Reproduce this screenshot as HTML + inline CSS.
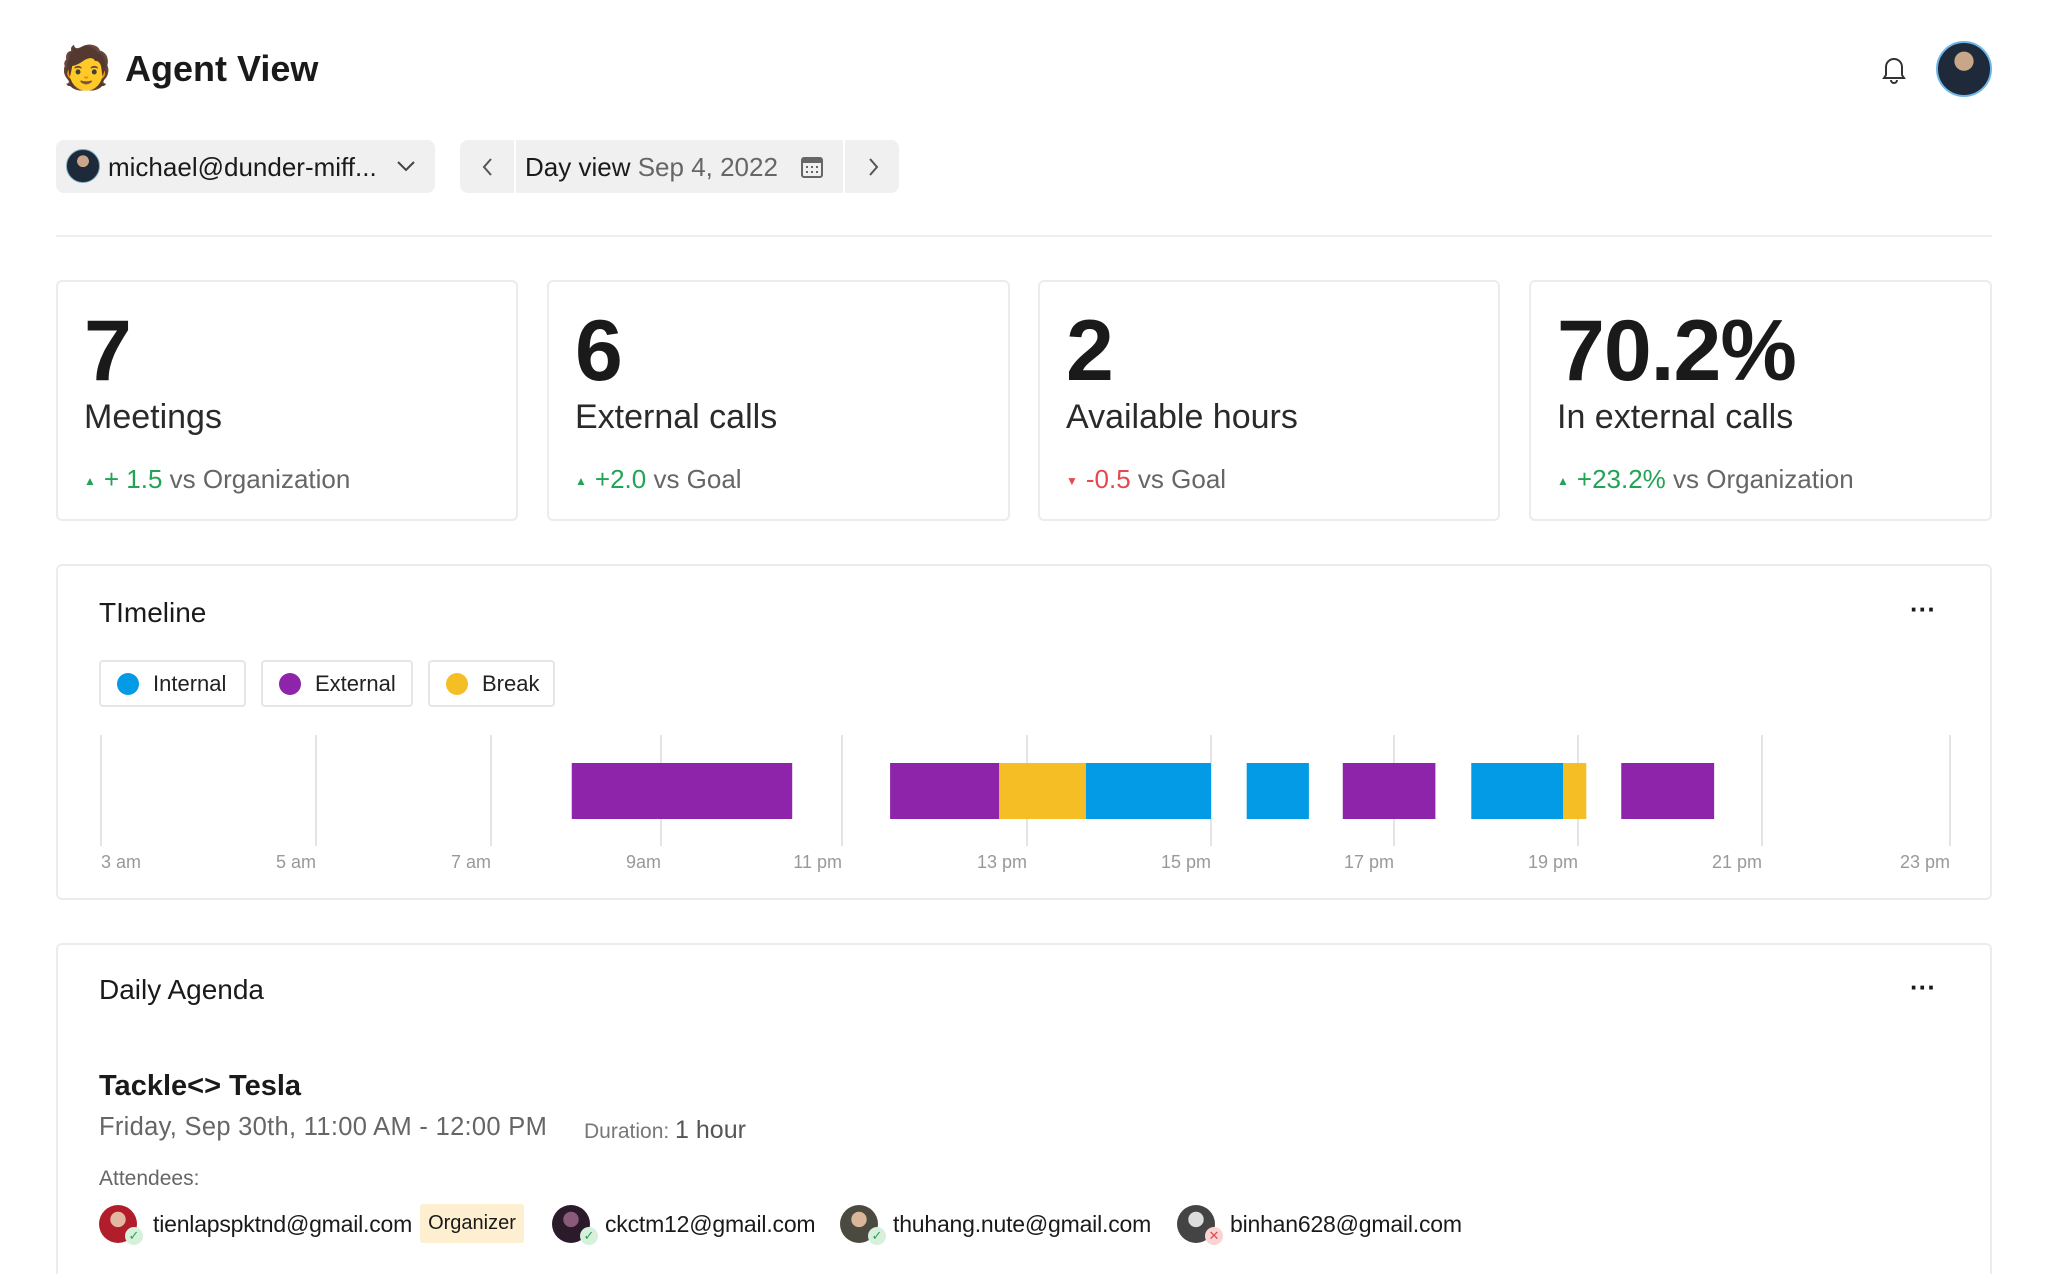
<!DOCTYPE html>
<html style="width:2048px;height:1274px;overflow:hidden"><head><meta charset="utf-8">
<style>
*{box-sizing:border-box;margin:0;padding:0}
body{width:2048px;height:1274px;overflow:hidden;background:#fff;font-family:"Liberation Sans",sans-serif;color:#1a1a1a;position:relative}
.a{position:absolute;white-space:nowrap}
.card{position:absolute;border:2px solid #ececec;border-radius:6px;background:#fff}
.big{position:absolute;left:26px;top:20px;font-size:86px;font-weight:bold;letter-spacing:-1px}
.lbl{position:absolute;left:26px;top:116px;font-size:34px;color:#2a2a2a}
.dl{position:absolute;left:26px;top:182px;font-size:26px;color:#666}
.up{color:#22a355}.dn{color:#e5484d}
.tri{font-size:12px;vertical-align:middle;margin-right:8px}
.leg{position:absolute;top:660px;height:47px;border:2px solid #e6e6e6;border-radius:4px;font-size:22px;display:flex;align-items:center;padding-left:16px;color:#222}
.dot{width:22px;height:22px;border-radius:50%;margin-right:14px}
.av{position:absolute;border-radius:50%}
</style></head><body>
<div class="a" style="left:60px;top:44px;font-size:42px">🧑</div>
<div class="a" style="left:125px;top:48px;font-size:36px;font-weight:bold">Agent View</div>
<svg class="a" style="left:1880px;top:54px" width="28" height="30" viewBox="0 0 28 30"><path d="M6 21V13a8 8 0 0 1 16 0v8l2 3H4z" fill="none" stroke="#333" stroke-width="2"/><path d="M11 26a3 3 0 0 0 6 0" fill="none" stroke="#333" stroke-width="2"/></svg>
<div class="av" style="left:1936px;top:41px;width:56px;height:56px;background:radial-gradient(circle at 50% 35%,#c9a58a 0 22%,#1e2a3a 23% 100%);border:2px solid #6fb6e8"></div>

<div class="a" style="left:56px;top:140px;width:379px;height:53px;background:#f0f0f0;border-radius:8px">
<div class="av" style="left:10px;top:9px;width:34px;height:34px;background:radial-gradient(circle at 50% 35%,#c9a58a 0 22%,#1e2a3a 23% 100%);border:1px solid #7ab"></div>
<div class="a" style="left:52px;top:12px;font-size:26px">michael@dunder-miff...</div>
<svg class="a" style="left:340px;top:18px" width="20" height="16"><path d="M2 4l8 8 8-8" fill="none" stroke="#444" stroke-width="2"/></svg>
</div>
<div class="a" style="left:460px;top:140px;width:439px;height:53px;background:#f0f0f0;border-radius:8px">
<div class="a" style="left:0;top:0;width:56px;height:53px;border-right:2px solid #fff"><svg class="a" style="left:20px;top:16px" width="16" height="22"><path d="M11 3l-7 8 7 8" fill="none" stroke="#555" stroke-width="2"/></svg></div>
<div class="a" style="left:65px;top:12px;font-size:26px">Day view <span style="color:#666">Sep 4, 2022</span></div>
<svg class="a" style="left:340px;top:15px" width="24" height="24"><rect x="2" y="3" width="20" height="19" rx="2" fill="none" stroke="#666" stroke-width="2"/><rect x="2" y="3" width="20" height="5" fill="#666"/><g fill="#666"><rect x="6" y="11" width="2" height="2"/><rect x="11" y="11" width="2" height="2"/><rect x="16" y="11" width="2" height="2"/><rect x="6" y="16" width="2" height="2"/><rect x="11" y="16" width="2" height="2"/><rect x="16" y="16" width="2" height="2"/></g></svg>
<div class="a" style="left:383px;top:0;width:56px;height:53px;border-left:2px solid #fff"><svg class="a" style="left:20px;top:16px" width="16" height="22"><path d="M5 3l7 8-7 8" fill="none" stroke="#555" stroke-width="2"/></svg></div>
</div>
<div class="a" style="left:56px;top:235px;width:1936px;height:2px;background:#eeeeee"></div>

<div class="card" style="left:56px;top:280px;width:462px;height:241px"><div class="big">7</div><div class="lbl">Meetings</div><div class="dl"><span class="up"><span class="tri">▲</span>+ 1.5</span> vs Organization</div></div>
<div class="card" style="left:547px;top:280px;width:463px;height:241px"><div class="big">6</div><div class="lbl">External calls</div><div class="dl"><span class="up"><span class="tri">▲</span>+2.0</span> vs Goal</div></div>
<div class="card" style="left:1038px;top:280px;width:462px;height:241px"><div class="big">2</div><div class="lbl">Available hours</div><div class="dl"><span class="dn"><span class="tri">▼</span>-0.5</span> vs Goal</div></div>
<div class="card" style="left:1529px;top:280px;width:463px;height:241px"><div class="big">70.2%</div><div class="lbl">In external calls</div><div class="dl"><span class="up"><span class="tri">▲</span>+23.2%</span> vs Organization</div></div>

<div class="card" style="left:56px;top:564px;width:1936px;height:336px"></div>
<div class="a" style="left:99px;top:597px;font-size:28px">TImeline</div>
<div class="a" style="left:1910px;top:594px;font-size:26px;font-weight:bold">···</div>
<div class="leg" style="left:99px;width:147px"><div class="dot" style="background:#039be5"></div>Internal</div>
<div class="leg" style="left:261px;width:152px"><div class="dot" style="background:#8e24aa"></div>External</div>
<div class="leg" style="left:428px;width:127px"><div class="dot" style="background:#f5be25"></div>Break</div>
<svg id="chart" class="a" style="left:0;top:720px" width="2048" height="170"></svg>

<div class="card" style="left:56px;top:943px;width:1936px;height:331px;border-bottom:none;border-radius:6px 6px 0 0"></div>
<div class="a" style="left:99px;top:974px;font-size:28px">Daily Agenda</div>
<div class="a" style="left:1910px;top:972px;font-size:26px;font-weight:bold">···</div>
<div class="a" style="left:99px;top:1070px;font-size:29px;font-weight:bold">Tackle&lt;&gt; Tesla</div>
<div class="a" style="left:99px;top:1113px;font-size:25.5px;color:#666;letter-spacing:0.3px">Friday, Sep 30th, 11:00 AM - 12:00 PM</div>
<div class="a" style="left:584px;top:1116px;font-size:21px;color:#777">Duration: <span style="font-size:25px;color:#555">1 hour</span></div>
<div class="a" style="left:99px;top:1167px;font-size:21px;color:#666">Attendees:</div>

<div class="av" style="left:99px;top:1205px;width:38px;height:38px;background:radial-gradient(circle at 50% 38%,#e3b8a0 0 25%,#b21d2c 26% 100%)"></div>
<div class="av" style="left:125px;top:1227px;width:18px;height:18px;background:#d6f0dc;color:#22a355;font-size:13px;text-align:center;line-height:18px">✓</div>
<div class="a" style="left:153px;top:1211px;font-size:23px;letter-spacing:-0.2px">tienlapspktnd@gmail.com</div>
<div class="a" style="left:420px;top:1204px;width:104px;height:39px;background:#fdefd0;border-radius:3px;font-size:20px;text-align:center;line-height:39px">Organizer</div>
<div class="av" style="left:552px;top:1205px;width:38px;height:38px;background:radial-gradient(circle at 50% 38%,#8a5a7a 0 25%,#2a1a2a 26% 100%)"></div>
<div class="av" style="left:580px;top:1227px;width:18px;height:18px;background:#d6f0dc;color:#22a355;font-size:13px;text-align:center;line-height:18px">✓</div>
<div class="a" style="left:605px;top:1211px;font-size:23px;letter-spacing:-0.2px">ckctm12@gmail.com</div>
<div class="av" style="left:840px;top:1205px;width:38px;height:38px;background:radial-gradient(circle at 50% 38%,#d9b59a 0 25%,#4a4a40 26% 100%)"></div>
<div class="av" style="left:868px;top:1227px;width:18px;height:18px;background:#d6f0dc;color:#22a355;font-size:13px;text-align:center;line-height:18px">✓</div>
<div class="a" style="left:893px;top:1211px;font-size:23px;letter-spacing:-0.2px">thuhang.nute@gmail.com</div>
<div class="av" style="left:1177px;top:1205px;width:38px;height:38px;background:radial-gradient(circle at 50% 38%,#ddd 0 25%,#444 26% 100%)"></div>
<div class="av" style="left:1205px;top:1227px;width:18px;height:18px;background:#f8d4d4;color:#e5484d;font-size:13px;text-align:center;line-height:18px">✕</div>
<div class="a" style="left:1230px;top:1211px;font-size:23px;letter-spacing:-0.2px">binhan628@gmail.com</div>

<script>
const tickHours = [3,5,7,9,11,13,15,17,19,21,23];
const tickLabels = ["3 am","5 am","7 am","9am","11 pm","13 pm","15 pm","17 pm","19 pm","21 pm","23 pm"];
const segStart = [7.95,11.52,12.70,13.64,15.39,16.44,17.84,18.84,19.47];
const segEnd =   [10.45,12.70,13.64,15.00,16.07,17.45,18.84,19.09,20.48];
const segType =  ["external","external","break","internal","internal","external","internal","break","external"];
const colors = {internal:"#039be5",external:"#8e24aa",break:"#f5be25"};
// layout: pixel position of each tick gridline
const tickPx = [101,316,491,661,842,1027,1211,1394,1578,1762,1950];
function x(h){
  for(let i=0;i<tickHours.length-1;i++){
    if(h<=tickHours[i+1]){const t=(h-tickHours[i])/(tickHours[i+1]-tickHours[i]);return tickPx[i]+t*(tickPx[i+1]-tickPx[i]);}
  }
  return tickPx[tickPx.length-1];
}
const svg=document.getElementById('chart');const NS="http://www.w3.org/2000/svg";
tickHours.forEach((h,i)=>{
  const l=document.createElementNS(NS,'line');
  
  
  l.setAttribute('x1',x(h));l.setAttribute('x2',x(h));l.setAttribute('y1',15);l.setAttribute('y2',126);
  l.setAttribute('stroke','#e4e4e4');l.setAttribute('stroke-width','2');svg.appendChild(l);
  const t=document.createElementNS(NS,'text');
  
  
  t.setAttribute('x',x(h));t.setAttribute('y',148);
  t.setAttribute('text-anchor',i===0?'start':'end');
  t.setAttribute('font-size','18');t.setAttribute('fill','#999');t.setAttribute('font-family','Liberation Sans, sans-serif');
  t.textContent=tickLabels[i];svg.appendChild(t);
});
segStart.forEach((s,i)=>{
  const r=document.createElementNS(NS,'rect');
  
  
  r.setAttribute('x',x(s));r.setAttribute('width',x(segEnd[i])-x(s));
  r.setAttribute('y',43);r.setAttribute('height',56);r.setAttribute('fill',colors[segType[i]]);
  svg.appendChild(r);
});
</script>
</body></html>
